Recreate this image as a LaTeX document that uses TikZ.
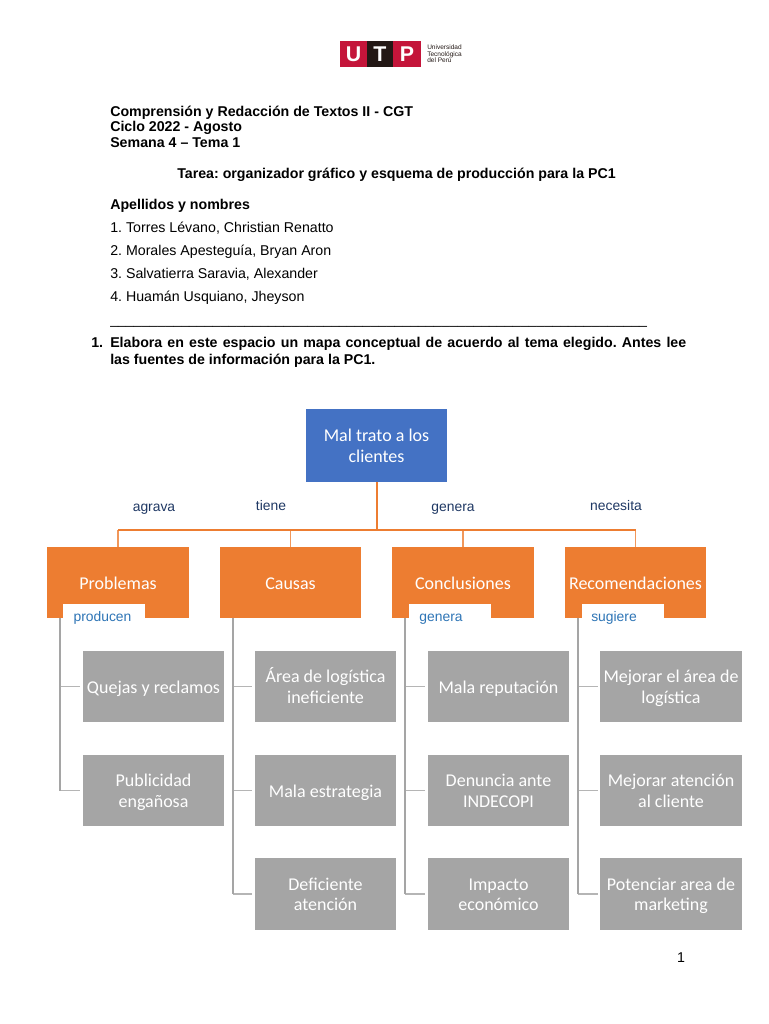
\documentclass[tikz,border=0pt]{standalone}
\usepackage{fontspec}
\setmainfont{Liberation Sans}
\newfontfamily\carl{Carlito}
\usetikzlibrary{calc}
\frenchspacing
\newcommand\tlift{\rule{0pt}{14.4pt}}
\definecolor{utpred}{HTML}{C4153A}
\definecolor{utpblack}{HTML}{231815}
\definecolor{mainblue}{HTML}{4472C4}
\definecolor{mainorange}{HTML}{ED7D31}
\definecolor{maingray}{HTML}{A5A5A5}
\definecolor{tiegray}{HTML}{B5B5B5}
\definecolor{labdark}{HTML}{1F3864}
\definecolor{labblue}{HTML}{2E75B6}
\tikzset{
  x=0.75pt,y=-0.75pt,
  txt/.style={anchor=base west,inner sep=0pt,font=\fontsize{10.65}{12}\selectfont},
  btxt/.style={txt,font=\fontsize{10.65}{12}\selectfont\bfseries},
  topbox/.style={draw=none,fill=mainblue,minimum width=105.75pt,minimum height=54.75pt,inner sep=0pt,align=center,text=white,font=\carl\fontsize{13.5}{15.4}\selectfont,execute at end node=\strut},
  catbox/.style={topbox,fill=mainorange,minimum width=106.25pt,minimum height=53.5pt},
  itembox/.style={catbox,fill=maingray},
  orangeln/.style={draw=mainorange,line width=1.5pt},
  dropln/.style={draw=mainorange!80!white,line width=1pt},
  grayln/.style={draw=maingray,line width=1.4pt},
  tieln/.style={draw=tiegray,line width=0.9pt},
  rel/.style={anchor=base,inner sep=0pt,text=labdark,font=\fontsize{10.4}{12}\selectfont},
  sublab/.style={anchor=base,inner sep=0pt,text=labblue,font=\fontsize{10.4}{12}\selectfont},
  tab/.style={fill=white,inner sep=0pt,minimum width=61.5pt,minimum height=10.5pt},
}
\begin{document}
\begin{tikzpicture}
\useasboundingbox (0,0) rectangle (768,1024);
\fill[white] (0,0) rectangle (768,1024);
% logo
\fill[utpred] (340,41) rectangle (421,67);
\fill[utpblack] (367,41) rectangle (393,67);
\node[inner sep=0pt,text=white,font=\fontsize{16}{16}\selectfont\bfseries] at (353.5,54) {U};
\node[inner sep=0pt,text=white,font=\fontsize{16}{16}\selectfont\bfseries] at (380,54) {T};
\node[inner sep=0pt,text=white,font=\fontsize{16}{16}\selectfont\bfseries] at (407,54) {P};
\node[anchor=west,inner sep=0pt,align=left,text=utpblack,font=\fontsize{4.9}{4.9}\selectfont] at (427,54) {Universidad\\Tecnológica\\del Perú};
% header
\node[btxt] at (110,117) {Comprensión y Redacción de Textos II - CGT};
\node[btxt] at (110,132) {Ciclo 2022 - Agosto};
\node[btxt] at (110,147) {Semana 4 – Tema 1};
\node[btxt,anchor=base] at (396.5,178) {Tarea: organizador gráfico y esquema de producción para la PC1};
\node[btxt] at (110,209) {Apellidos y nombres};
\node[txt] at (110,232) {1. Torres Lévano, Christian Renatto};
\node[txt] at (110,255) {2. Morales Apesteguía, Bryan Aron};
\node[txt] at (110,278) {3. Salvatierra Saravia, Alexander};
\node[txt] at (110,301) {4. Huamán Usquiano, Jheyson};
\node[txt] at (110,324) {\_\_\_\_\_\_\_\_\_\_\_\_\_\_\_\_\_\_\_\_\_\_\_\_\_\_\_\_\_\_\_\_\_\_\_\_\_\_\_\_\_\_\_\_\_\_\_\_\_\_\_\_\_\_\_\_\_\_\_\_\_\_\_\_\_\_\_\_};
\node[btxt] at (91,347) {1.};
\node[btxt] at (110,347) {\makebox[432pt][s]{Elabora en este espacio un mapa conceptual de acuerdo al tema elegido. Antes lee}};
\node[btxt] at (110,364) {las fuentes de información para la PC1.};
% nodes
\node[topbox] (root) at (376.5,445.5) {\tlift Mal trato a los\\clientes};
\node[catbox] (c1) at (118,582.5) {\tlift Problemas};
\node[catbox] (c2) at (290.5,582.5) {\tlift Causas};
\node[catbox] (c3) at (463,582.5) {\tlift Conclusiones};
\node[catbox] (c4) at (635.5,582.5) {\tlift Recomendaciones};
\node[itembox] (a1) at (153.5,686.5) {\tlift Quejas y reclamos};
\node[itembox] (a2) at (153.5,790.5) {\tlift Publicidad\\engañosa};
\node[itembox] (b1) at (325.5,686.5) {\tlift Área de logística\\ineficiente};
\node[itembox] (b2) at (325.5,790.5) {\tlift Mala estrategia};
\node[itembox] (b3) at (325.5,894) {\tlift Deficiente\\atención};
\node[itembox] (d1) at (498.5,686.5) {\tlift Mala reputación};
\node[itembox] (d2) at (498.5,790.5) {\tlift Denuncia ante\\INDECOPI};
\node[itembox] (d3) at (498.5,894) {\tlift Impacto\\económico};
\node[itembox] (e1) at (671,686.5) {\tlift Mejorar el área de\\logística};
\node[itembox] (e2) at (671,790.5) {\tlift Mejorar atención\\al cliente};
\node[itembox] (e3) at (671,894) {\tlift Potenciar area de\\marketing};
% tabs
\node[tab,anchor=south west] (t1) at ($(c1.south west)+(16,0)$) {};
\node[tab,anchor=south west] (t2) at ($(c3.south west)+(17,0)$) {};
\node[tab,anchor=south west] (t3) at ($(c4.south west)+(17,0)$) {};
\node[sublab] (l1) at (102.5,621) {producen};
\node[sublab] (l2) at (441,621) {genera};
\node[sublab] (l3) at (614,621) {sugiere};
% connectors
\coordinate (bus) at ($(root.south)+(0,48)$);
\draw[dropln] (c1.north) -- (c1.north |- bus);
\draw[dropln] (c2.north) -- (c2.north |- bus);
\draw[dropln] (c3.north) -- (c3.north |- bus);
\draw[dropln] (c4.north) -- (c4.north |- bus);
\draw[orangeln] (root.south) -- (bus);
\draw[orangeln] (c1.north |- bus) -- (c4.north |- bus);
\foreach \c in {c1,c2,c3,c4}{
  \coordinate (\c t) at ($(\c.south west)+(13.5,0)$);
}
\foreach \c/\i in {c1/a1,c1/a2,c2/b1,c2/b2,c2/b3,c3/d1,c3/d2,c3/d3,c4/e1,c4/e2,c4/e3}{
  \draw[tieln] (\c t |- \i.west) -- ($(\i.west)+(-2,0)$);
}
\draw[grayln] (c1t) -- (c1t |- a2.west);
\draw[grayln] (c2t) -- (c2t |- b3.west);
\draw[grayln] (c3t) -- (c3t |- d3.west);
\draw[grayln] (c4t) -- (c4t |- e3.west);
% relation labels
\node[rel] (r1) at (154,511) {agrava};
\node[rel] (r2) at (271,510) {tiene};
\node[rel] (r3) at (453,511) {genera};
\node[rel] (r4) at (616,510) {necesita};
\node[inner sep=0pt,font=\fontsize{10.65}{12}\selectfont] (pg) at (681,958) {1};
\end{tikzpicture}
\end{document}
